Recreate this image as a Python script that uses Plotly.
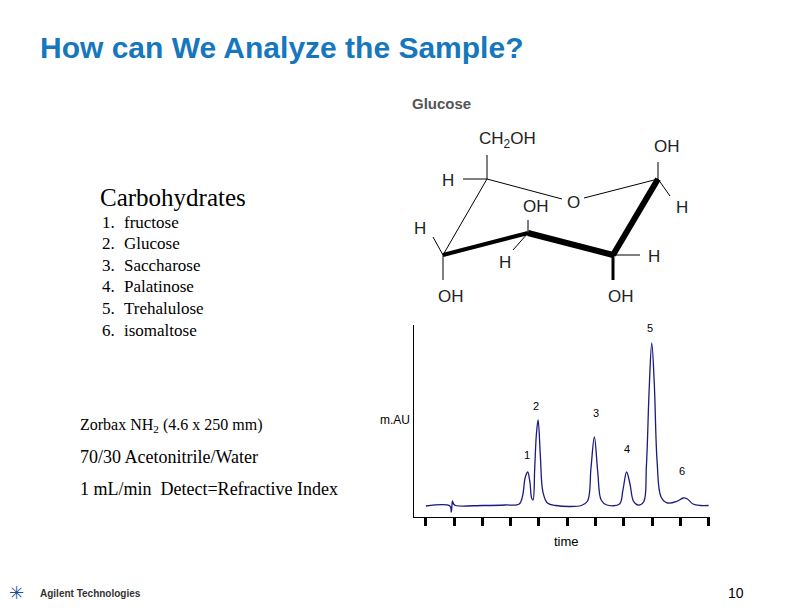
import plotly.graph_objects as go

# Chromatogram trace (time in tick units, signal in mAU-ish units)
time = [0, 0.85, 0.9, 0.94, 0.98, 1.05, 2.0, 2.8, 3.3, 3.42, 3.51, 3.6, 3.68, 3.74, 3.79,
        3.85, 3.91, 3.97, 4.05, 4.14, 4.3, 4.6, 5.5, 5.72, 5.84, 5.96, 6.08, 6.2, 6.4,
        6.85, 6.97, 7.1, 7.22, 7.34, 7.5, 7.7, 7.8, 7.9, 7.99, 8.08, 8.18, 8.32, 8.55,
        8.9, 9.1, 9.25, 9.45, 9.7, 10.0]
signal = [0, 0, -6, 5, 2, 0.5, 0.5, 1, 2, 10, 28, 34, 24, 8, 6,
          38, 72, 86, 50, 14, 3, 0.5, 0.5, 5, 38, 69, 34, 6, 1,
          2, 16, 34, 22, 5, 1, 4, 40, 118, 163, 122, 44, 9, 3,
          5, 8, 7, 2, 0.5, 0.5]

peak_ids = ["1", "2", "3", "4", "5", "6"]
peak_time = [3.56, 3.91, 6.0, 7.1, 7.94, 9.05]
peak_label_y = [51, 100, 93, 57, 178, 35]

sugars = ["fructose", "Glucose", "Saccharose", "Palatinose", "Trehalulose", "isomaltose"]

W, H = 792, 612
OFF = 8  # page body margin


def px(x):
    return (x - OFF) / W


def py(y):
    return 1 - (y - OFF) / H


fig = go.Figure()
fig.add_trace(go.Scatter(x=time, y=signal, mode="lines", line_shape="spline",
                         line=dict(color="#1a1a80", width=1.3), hoverinfo="skip"))

for pid, t, ly in zip(peak_ids, peak_time, peak_label_y):
    fig.add_annotation(x=t, y=ly, text=pid, showarrow=False,
                       font=dict(family="Arial", size=11, color="black"))

ann = []


def text(x, y, s, size, family="Liberation Serif", color="black", anchor="left", bold=False):
    if bold:
        s = "<b>" + s + "</b>"
    ann.append(dict(x=px(x), y=py(y), xref="paper", yref="paper", text=s, showarrow=False,
                    xanchor=anchor, yanchor="middle", font=dict(family=family, size=size, color=color)))


text(38, 47, "How can We Analyze the Sample?", 30, "Arial", "#1677bd", bold=True)
text(98, 197, "Carbohydrates", 25)
for i, s in enumerate(sugars):
    yy = 222 + i * 21.6
    text(100, yy, f"{i + 1}.", 17)
    text(122, yy, s, 17)
text(78, 425, "Zorbax NH<sub>2</sub> (4.6 x 250 mm)", 16)
text(78, 457, "70/30 Acetonitrile/Water", 18)
text(78, 489, "1 mL/min  Detect=Refractive Index", 18)
text(378, 420, "m.AU", 12, "Arial")
text(566, 541, "time", 13, "Arial", anchor="center")
text(736, 593, "10", 14, "Arial", anchor="center")
text(38, 593, "Agilent Technologies", 10, "Arial", "#333", bold=True)
text(16, 592, "✳", 18, "DejaVu Sans", "#1c4f9f", anchor="center")

# Glucose structure
text(410, 103, "Glucose", 15, "Arial", "#555", bold=True)
for x, y, s in [(507, 140, "CH<sub>2</sub>OH"), (448, 180, "H"), (573, 202, "O"), (667, 147, "OH"),
                (682, 208, "H"), (654, 256, "H"), (621, 296, "OH"), (536, 207, "OH"),
                (505, 262, "H"), (420, 228, "H"), (451, 296, "OH")]:
    text(x, y, s, 17, "Arial", "#222", anchor="center")

shapes = []


def seg(x0, y0, x1, y1, w=1):
    shapes.append(dict(type="line", xref="paper", yref="paper", x0=px(x0), y0=py(y0),
                       x1=px(x1), y1=py(y1), line=dict(color="black", width=w)))


seg(487, 179, 487, 155)
seg(463, 179, 487, 179)
seg(487, 179, 562, 199)
seg(584, 198, 658, 179)
seg(658, 179, 658, 162)
seg(658, 179, 670, 196)
seg(658, 179, 613, 255, 6)
seg(613, 255, 640, 255)
seg(613, 255, 613, 280, 3)
seg(613, 255, 528, 233, 6)
seg(528, 233, 528, 220)
seg(528, 233, 513, 250)
seg(528, 233, 443, 255, 4)
seg(443, 255, 487, 179)
seg(443, 255, 433, 237)
seg(443, 255, 443, 280)

fig.update_layout(
    width=W, height=H, margin=dict(l=0, r=0, t=0, b=0),
    paper_bgcolor="white", plot_bgcolor="white", showlegend=False,
    annotations=list(fig.layout.annotations) + ann, shapes=shapes,
    xaxis=dict(domain=[px(414), px(710)], range=[-0.42, 10.05], showgrid=False, zeroline=False,
               showline=True, linecolor="black", linewidth=1, ticks="outside", ticklen=8,
               tickwidth=3, tickcolor="black", tickvals=list(range(11)), showticklabels=False),
    yaxis=dict(domain=[py(517), py(325)], range=[-11, 181], showgrid=False, zeroline=False,
               showline=True, linecolor="black", linewidth=1, showticklabels=False, ticks=""),
)

fig.write_html("out.html")
